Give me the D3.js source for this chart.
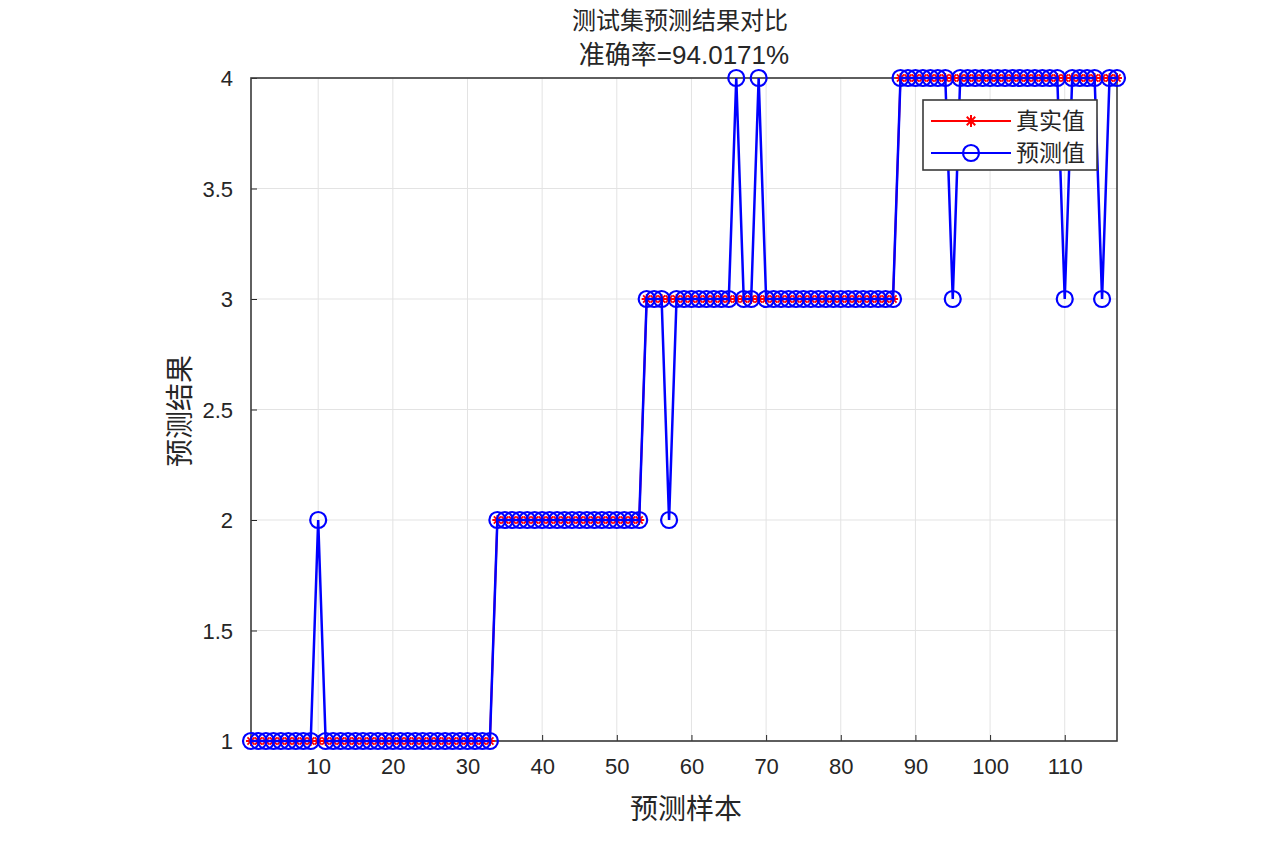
<!DOCTYPE html>
<html><head><meta charset="utf-8">
<script src="https://cdn.jsdelivr.net/npm/d3@7"></script>
<style>body{margin:0;background:#fff;}svg{display:block;}</style>
</head><body>
<svg id="chart" width="1280" height="844"></svg>
<script>
// Data
const trueValues = [].concat(
  Array(33).fill(1), Array(20).fill(2), Array(34).fill(3), Array(30).fill(4)
);
const predValues = trueValues.slice();
const errors = [[10,2],[57,2],[66,4],[69,4],[95,3],[110,3],[115,3]];
errors.forEach(([i,v]) => predValues[i-1] = v);
const samples = trueValues.map((d,i)=>i+1);
const xTicks = [10,20,30,40,50,60,70,80,90,100,110];
const yTicks = [1,1.5,2,2.5,3,3.5,4];
const titleLines = ["测试集预测结果对比","准确率=94.0171%"];
const seriesNames = ["真实值","预测值"];

const svg = d3.select("#chart");
const L=251, R=1117, T=78, B=741;
const x = d3.scaleLinear().domain([1,117]).range([L,R]);
const y = d3.scaleLinear().domain([1,4]).range([B,T]);
const axisColor="#262626";
const numFont="'Liberation Sans', Arial, sans-serif";
const cjkFont="'Noto Sans CJK SC', sans-serif";

// grid
const g = svg.append("g");
g.selectAll(".gx").data(xTicks).enter().append("line")
  .attr("x1",d=>x(d)).attr("x2",d=>x(d)).attr("y1",T).attr("y2",B)
  .attr("stroke","#e3e3e3").attr("stroke-width",1);
g.selectAll(".gy").data(yTicks).enter().append("line")
  .attr("y1",d=>y(d)).attr("y2",d=>y(d)).attr("x1",L).attr("x2",R)
  .attr("stroke","#e3e3e3").attr("stroke-width",1);

// axes via d3
const xAxis = d3.axisBottom(x).tickValues(xTicks).tickSizeInner(-6).tickSizeOuter(0).tickPadding(17);
const yAxis = d3.axisLeft(y).tickValues(yTicks).tickSizeInner(-6).tickSizeOuter(0).tickPadding(18)
  .tickFormat(d3.format("~g"));
const gx = svg.append("g").attr("transform",`translate(0,${B})`).call(xAxis);
const gy = svg.append("g").attr("transform",`translate(${L},0)`).call(yAxis);
[gx,gy].forEach(a=>{
  a.select(".domain").remove();
  a.selectAll("line").attr("stroke",axisColor);
  a.selectAll("text").attr("fill",axisColor).style("font-family",numFont).style("font-size","22px");
});
gy.selectAll("text").attr("dy","0.36em");
gx.selectAll("text").attr("dy","0.71em");

// box
svg.append("rect").attr("x",L).attr("y",T).attr("width",R-L).attr("height",B-T)
  .attr("fill","none").attr("stroke","#3a3a3a").attr("stroke-width",1.6);

// series
const line = (vals)=>d3.line().x((d,i)=>x(samples[i])).y(d=>y(d))(vals);
const plot = svg.append("g");
plot.append("path").attr("d",line(trueValues)).attr("fill","none").attr("stroke","#ff0000").attr("stroke-width",2);
function star(sel, cx, cy, r, w){
  const p = [];
  for(let k=0;k<4;k++){
    const a = k*Math.PI/4;
    p.push(`M${cx-r*Math.cos(a)},${cy-r*Math.sin(a)}L${cx+r*Math.cos(a)},${cy+r*Math.sin(a)}`);
  }
  sel.append("path").attr("d",p.join("")).attr("stroke","#ff0000").attr("stroke-width",w).attr("fill","none");
}
trueValues.forEach((v,i)=>star(plot, x(samples[i]), y(v), 5, 1.8));
plot.append("path").attr("d",line(predValues)).attr("fill","none").attr("stroke","#0000ff").attr("stroke-width",2.5);
plot.selectAll("circle").data(predValues).enter().append("circle")
  .attr("cx",(d,i)=>x(samples[i])).attr("cy",d=>y(d)).attr("r",8)
  .attr("fill","none").attr("stroke","#0000ff").attr("stroke-width",2.2);

// titles
svg.append("text").attr("x",680).attr("y",29).attr("text-anchor","middle")
  .style("font-family",cjkFont).style("font-size","24px").attr("fill",axisColor).text(titleLines[0]);
svg.append("text").attr("x",684).attr("y",64).attr("text-anchor","middle")
  .style("font-family",`${numFont}`).style("font-size","26px").attr("fill",axisColor)
  .selectAll("tspan").data([[titleLines[1].slice(0,3),cjkFont],[titleLines[1].slice(3),numFont]]).enter()
  .append("tspan").style("font-family",d=>d[1]).text(d=>d[0]);
svg.append("text").attr("x",686).attr("y",819).attr("text-anchor","middle")
  .style("font-family",cjkFont).style("font-size","28px").attr("fill",axisColor).text("预测样本");
svg.append("text").attr("transform","translate(190,411) rotate(-90)").attr("text-anchor","middle")
  .style("font-family",cjkFont).style("font-size","28px").attr("fill",axisColor).text("预测结果");

// legend
const lg = svg.append("g");
lg.append("rect").attr("x",923).attr("y",100).attr("width",174).attr("height",70)
  .attr("fill","#fff").attr("stroke","#3a3a3a").attr("stroke-width",1.6);
const ly=[121,153];
lg.append("line").attr("x1",931).attr("x2",1011).attr("y1",ly[0]).attr("y2",ly[0]).attr("stroke","#ff0000").attr("stroke-width",2);
star(lg, 971, ly[0], 6, 2);
lg.append("line").attr("x1",931).attr("x2",1011).attr("y1",ly[1]).attr("y2",ly[1]).attr("stroke","#0000ff").attr("stroke-width",2);
lg.append("circle").attr("cx",971).attr("cy",ly[1]).attr("r",8).attr("fill","none").attr("stroke","#0000ff").attr("stroke-width",2.2);
lg.selectAll("text.lt").data(seriesNames).enter().append("text")
  .attr("x",1016).attr("y",(d,i)=>ly[i]+8).style("font-family",cjkFont).style("font-size","23px")
  .attr("fill",axisColor).text(d=>d);
</script>
</body></html>
